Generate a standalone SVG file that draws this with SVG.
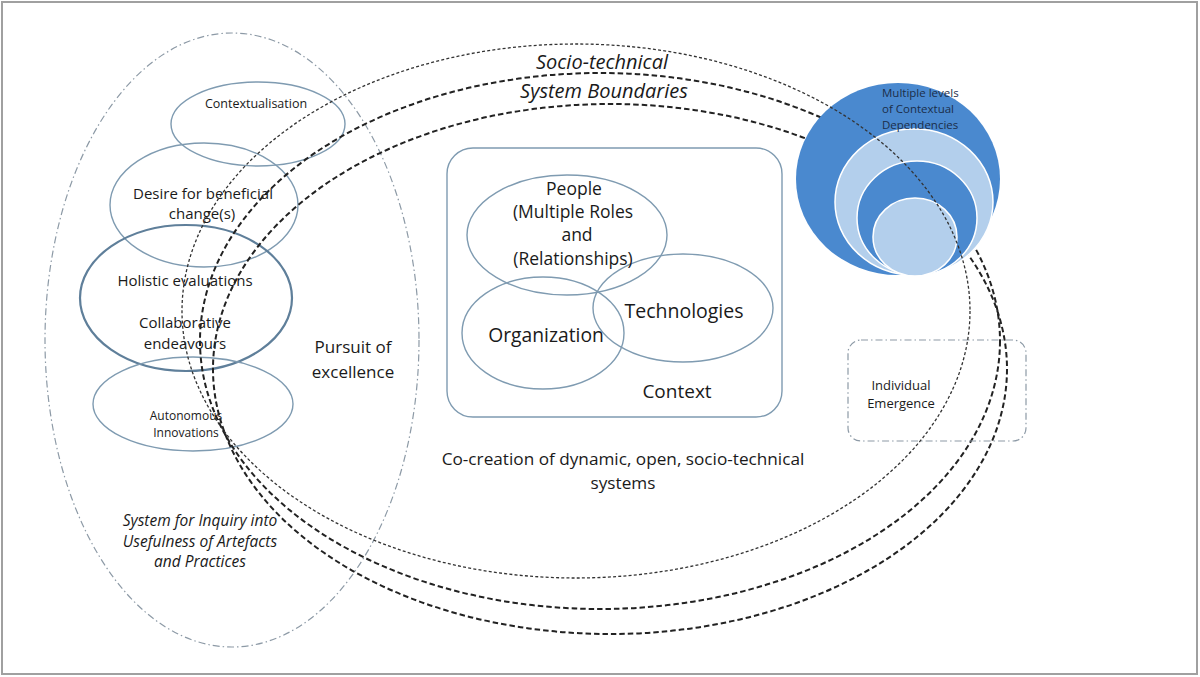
<svg xmlns="http://www.w3.org/2000/svg" width="1200" height="677" viewBox="0 0 1200 677">
<style>
.f{fill:none;stroke:#7f9bb1;stroke-width:1.4}
.t{font-family:"Open Sans","Liberation Sans",sans-serif;fill:#1a1a1a;text-anchor:middle}
.i{font-style:italic}
.dd{fill:none;stroke:#8d9aa6;stroke-width:1.2;stroke-dasharray:7 3 1.5 3}
.thin{fill:none;stroke:#333;stroke-width:1.3;stroke-dasharray:3 2.2}
.thick{fill:none;stroke:#222;stroke-width:2;stroke-dasharray:5.5 3}
.blue{fill:#4a89cf}
.light{fill:#b3cfec;stroke:#fff;stroke-width:1.5}
</style>
<rect x="2" y="2" width="1195" height="672" fill="#fff" stroke="#a0a0a0" stroke-width="2"/>
<g id="inquiry-system">
<ellipse class="dd" cx="232" cy="340" rx="187" ry="307"/>
<text class="t i" font-size="15.5"><tspan x="200" y="526">System for Inquiry into</tspan><tspan x="200" y="547">Usefulness of Artefacts</tspan><tspan x="200" y="567">and Practices</tspan></text>
<text class="t" font-size="17"><tspan x="353" y="353">Pursuit of</tspan><tspan x="353" y="378">excellence</tspan></text>
</g>
<g id="contextualisation">
<ellipse class="f" cx="258" cy="124" rx="87" ry="42"/>
<text class="t" font-size="12.5" x="256" y="108">Contextualisation</text>
</g>
<g id="desire">
<ellipse class="f" cx="204" cy="205" rx="94" ry="62"/>
<text class="t" font-size="15"><tspan x="203" y="199">Desire for beneficial</tspan><tspan x="202" y="219">change(s)</tspan></text>
</g>
<g id="holistic">
<ellipse cx="186" cy="298" rx="106" ry="73" fill="none" stroke="#5f7f9a" stroke-width="2.2"/>
<text class="t" font-size="15"><tspan x="185" y="286">Holistic evaluations</tspan><tspan x="185" y="328">Collaborative</tspan><tspan x="185" y="349">endeavours</tspan></text>
</g>
<g id="autonomous">
<ellipse class="f" cx="193" cy="404" rx="100" ry="47"/>
<text class="t" font-size="12"><tspan x="186" y="420">Autonomous</tspan><tspan x="186" y="437">Innovations</tspan></text>
</g>
<g id="context">
<rect x="447" y="148" width="335" height="269" rx="26" class="f"/>
<ellipse class="f" cx="567" cy="235" rx="100" ry="60"/>
<ellipse class="f" cx="543" cy="333" rx="81" ry="56"/>
<ellipse class="f" cx="683" cy="308" rx="90" ry="54"/>
<text class="t" font-size="17.5"><tspan x="574" y="195">People</tspan><tspan x="573" y="218">(Multiple Roles</tspan><tspan x="577" y="241">and</tspan><tspan x="573" y="265">(Relationships)</tspan></text>
<text class="t" font-size="19.5" x="684" y="318">Technologies</text>
<text class="t" font-size="19.3" x="546" y="342">Organization</text>
<text class="t" font-size="19" x="677" y="398">Context</text>
</g>
<g id="co-creation">
<text class="t" font-size="17.2"><tspan x="623" y="465">Co-creation of dynamic, open, socio-technical</tspan><tspan x="623" y="489">systems</tspan></text>
</g>
<g id="boundaries-outer">
<ellipse class="thick" cx="600" cy="341" rx="400" ry="268"/>
<ellipse class="thick" cx="610" cy="369" rx="397" ry="265"/>
</g>
<g id="contextual-dependencies">
<ellipse class="blue" cx="898" cy="179" rx="102" ry="96"/>
<ellipse class="light" cx="914" cy="202" rx="79" ry="73"/>
<ellipse class="blue" cx="917" cy="218" rx="60" ry="57" stroke="#fff" stroke-width="1.5"/>
<ellipse class="light" cx="915" cy="237" rx="42" ry="39"/>
<text font-family="'Open Sans','Liberation Sans',sans-serif" font-size="11.5" fill="#1b2e4a"><tspan x="882" y="97">Multiple levels</tspan><tspan x="882" y="113">of Contextual</tspan><tspan x="882" y="129">Dependencies</tspan></text>
</g>
<g id="individual-emergence">
<rect x="848" y="340" width="178" height="101" rx="13" class="dd"/>
<text class="t" font-size="13"><tspan x="901" y="390">Individual</tspan><tspan x="901" y="408">Emergence</tspan></text>
</g>
<g id="boundaries">
<ellipse class="thin" cx="576" cy="311" rx="394" ry="267"/>
<text class="t i" font-size="20"><tspan x="602" y="69">Socio-technical</tspan><tspan x="604" y="98">System Boundaries</tspan></text>
</g>
</svg>
